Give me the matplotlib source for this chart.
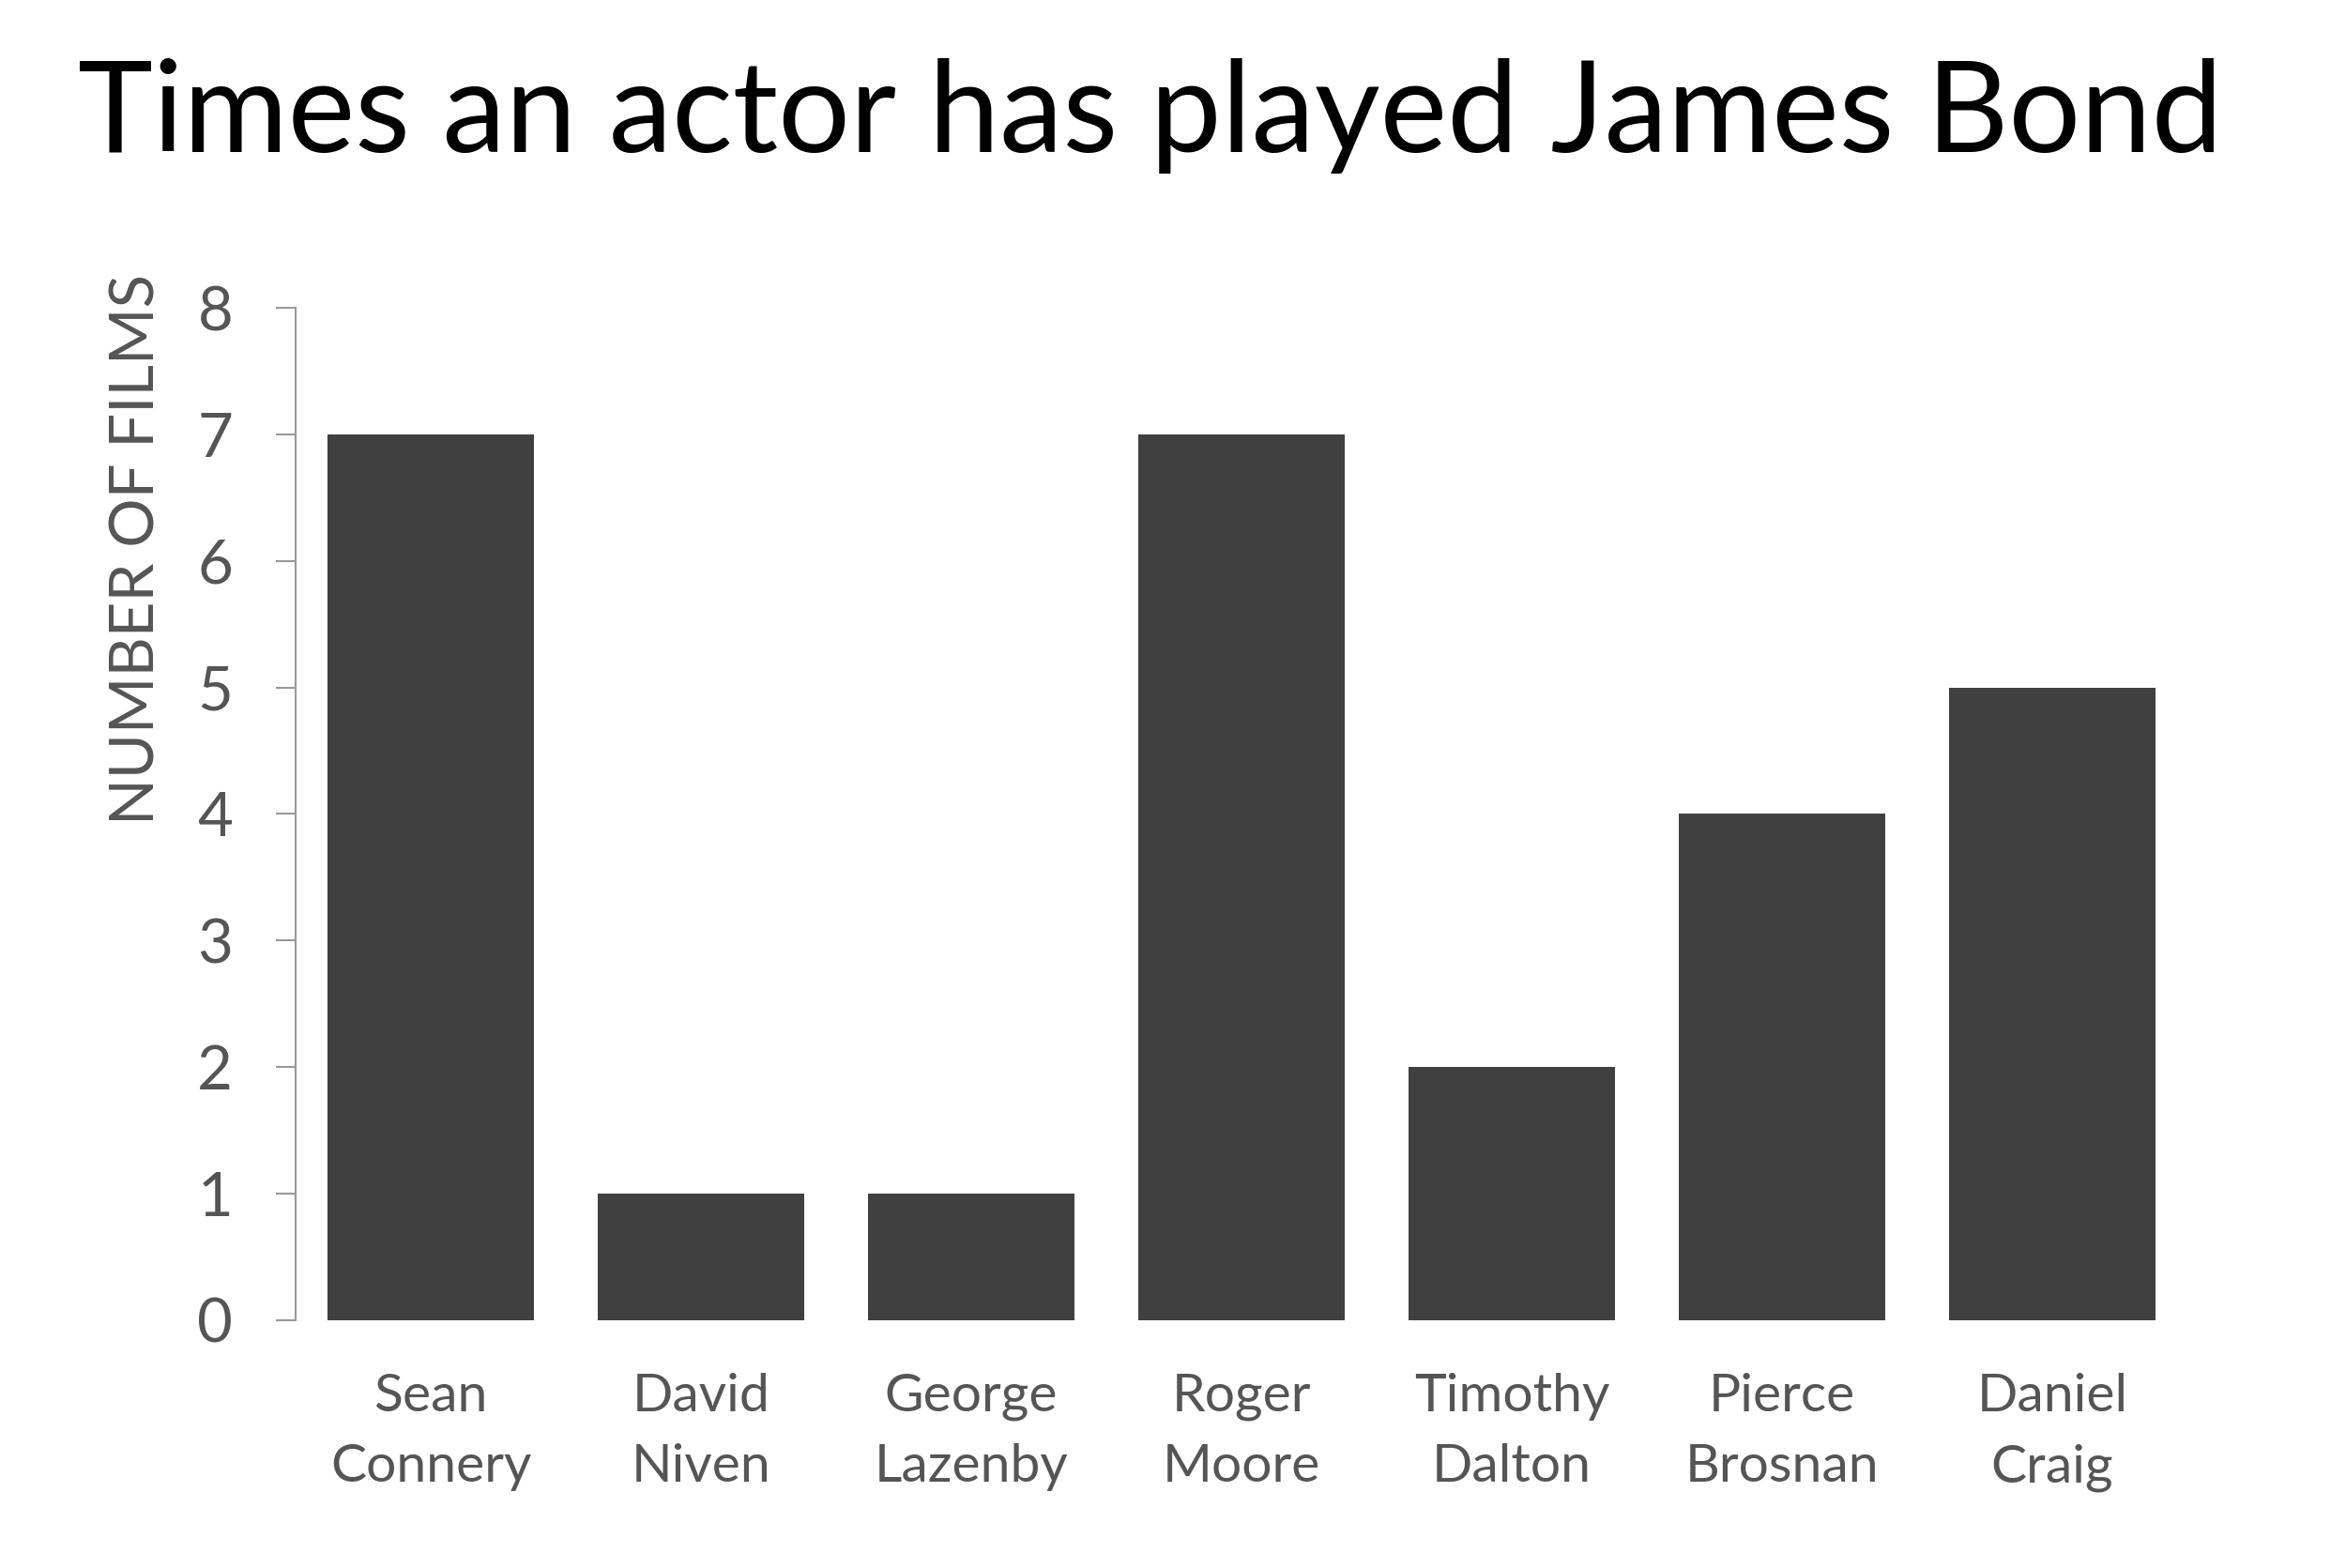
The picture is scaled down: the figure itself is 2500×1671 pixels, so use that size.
import matplotlib
matplotlib.use("Agg")
import matplotlib.pyplot as plt

actors = ["Sean\nConnery", "David\nNiven", "George\nLazenby", "Roger\nMoore",
          "Timothy\nDalton", "Pierce\nBrosnan", "Daniel\nCraig"]
films = [7, 1, 1, 7, 2, 4, 5]
yticks = [0, 1, 2, 3, 4, 5, 6, 7, 8]
title = "Times an actor has played James Bond"
ylabel = "NUMBER OF FILMS"

plt.rcParams['font.family'] = ['Lato', 'DejaVu Sans']

fig = plt.figure(figsize=(25, 16.71), dpi=100)
ax = fig.add_axes([0.126, 0.158, 0.8064, 0.6457])

x = list(range(len(actors)))
ax.bar(x, films, width=0.764, color="#404040")
ax.set_xlim(-0.5, 6.5)
ax.set_ylim(0, 8)
ax.set_yticks(yticks)
ax.set_xticks(x)
ax.set_xticklabels(actors, fontsize=41, color="#555555", linespacing=1.6)
ax.tick_params(axis='x', length=0, pad=40)
ax.tick_params(axis='y', length=15, width=1.5, color="#999999", labelsize=47,
               labelcolor="#555555", pad=33)
for s in ["top", "right", "bottom"]:
    ax.spines[s].set_visible(False)
ax.spines["left"].set_color("#999999")
ax.spines["left"].set_linewidth(1.5)

fig.text(0.0332, 1 - 162 / 1671, title, fontsize=97.5, color="black",
         fontweight="normal", ha="left", va="baseline")
fig.text(146 / 2500, 1 - 585 / 1671, ylabel, fontsize=47, color="#555555",
         rotation=90, ha="center", va="center")

fig.savefig("out.png", dpi=100)
